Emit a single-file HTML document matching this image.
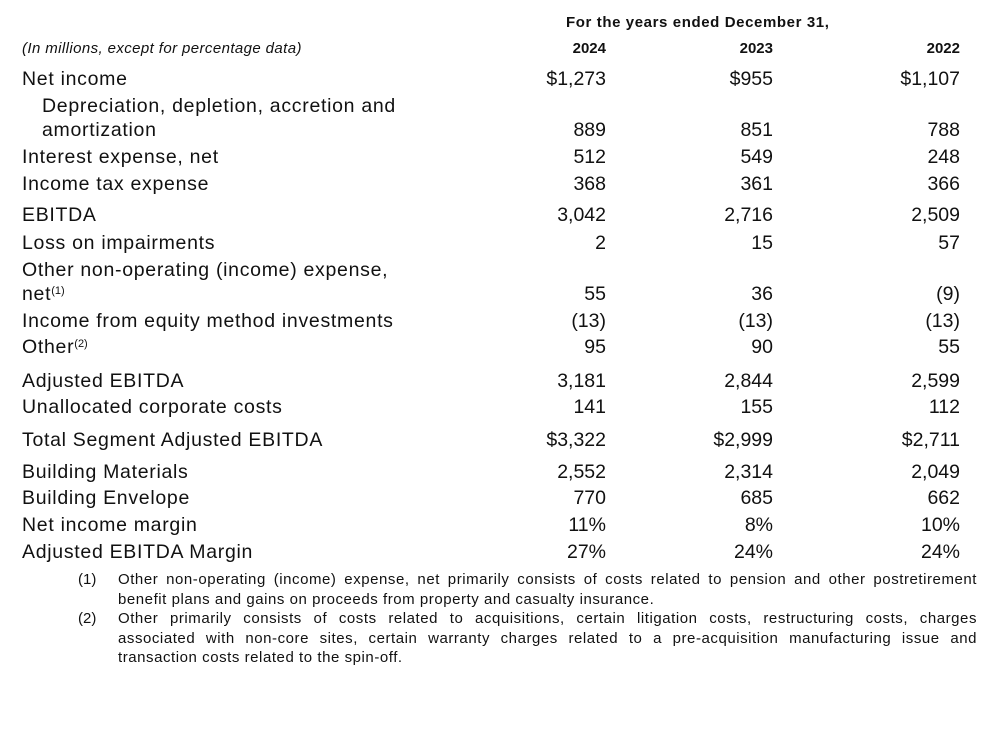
<!DOCTYPE html>
<html><head><meta charset="utf-8"><style>
body{margin:0;width:1004px;height:732px;background:#fff;font-family:"Liberation Sans",sans-serif;color:#111;position:relative;overflow:hidden}
.r{position:absolute;left:0;width:1004px;height:24px;font-size:19.5px;line-height:24px}
.r span{position:absolute;white-space:nowrap}
.r span.l,.r span.i{letter-spacing:0.7px}
.l{left:22px}.i{left:42px}
.a{right:398px}.b{right:231px}.c{right:44px}
.h{position:absolute;font-size:15px;font-weight:bold;white-space:nowrap}
sup{font-size:11px;vertical-align:6px;line-height:0;letter-spacing:0}
.fn{position:absolute;font-size:15px;line-height:19.5px;letter-spacing:0.55px}
.fn .n{position:absolute;left:78px;letter-spacing:0}
.fn .t{position:absolute;left:118px;width:859px;text-align:justify}
.j{display:block;text-align:justify;text-align-last:justify;white-space:nowrap}
.k{display:block;white-space:nowrap}
</style></head><body>
<div class="h" style="left:566px;top:14px;letter-spacing:0.6px">For the years ended December 31,</div>
<div class="h" style="right:398px;top:40px">2024</div>
<div class="h" style="right:231px;top:40px">2023</div>
<div class="h" style="right:44px;top:40px">2022</div>
<div style="position:absolute;left:22px;top:40px;font-size:15px;font-style:italic;letter-spacing:0.4px">(In millions, except for percentage data)</div>

<div class="r" style="top:67px"><span class="l">Net income</span><span class="a">$1,273</span><span class="b">$955</span><span class="c">$1,107</span></div>
<div class="r" style="top:94px"><span class="i">Depreciation, depletion, accretion and</span></div>
<div class="r" style="top:118px"><span class="i">amortization</span><span class="a">889</span><span class="b">851</span><span class="c">788</span></div>
<div class="r" style="top:145px"><span class="l">Interest expense, net</span><span class="a">512</span><span class="b">549</span><span class="c">248</span></div>
<div class="r" style="top:172px"><span class="l">Income tax expense</span><span class="a">368</span><span class="b">361</span><span class="c">366</span></div>
<div class="r" style="top:203px"><span class="l">EBITDA</span><span class="a">3,042</span><span class="b">2,716</span><span class="c">2,509</span></div>
<div class="r" style="top:231px"><span class="l">Loss on impairments</span><span class="a">2</span><span class="b">15</span><span class="c">57</span></div>
<div class="r" style="top:258px"><span class="l">Other non-operating (income) expense,</span></div>
<div class="r" style="top:282px"><span class="l">net<sup>(1)</sup></span><span class="a">55</span><span class="b">36</span><span class="c">(9)</span></div>
<div class="r" style="top:309px"><span class="l">Income from equity method investments</span><span class="a">(13)</span><span class="b">(13)</span><span class="c">(13)</span></div>
<div class="r" style="top:335px"><span class="l">Other<sup>(2)</sup></span><span class="a">95</span><span class="b">90</span><span class="c">55</span></div>
<div class="r" style="top:369px"><span class="l">Adjusted EBITDA</span><span class="a">3,181</span><span class="b">2,844</span><span class="c">2,599</span></div>
<div class="r" style="top:395px"><span class="l">Unallocated corporate costs</span><span class="a">141</span><span class="b">155</span><span class="c">112</span></div>
<div class="r" style="top:428px"><span class="l">Total Segment Adjusted EBITDA</span><span class="a">$3,322</span><span class="b">$2,999</span><span class="c">$2,711</span></div>
<div class="r" style="top:460px"><span class="l">Building Materials</span><span class="a">2,552</span><span class="b">2,314</span><span class="c">2,049</span></div>
<div class="r" style="top:486px"><span class="l">Building Envelope</span><span class="a">770</span><span class="b">685</span><span class="c">662</span></div>
<div class="r" style="top:513px"><span class="l">Net income margin</span><span class="a">11%</span><span class="b">8%</span><span class="c">10%</span></div>
<div class="r" style="top:540px"><span class="l">Adjusted EBITDA Margin</span><span class="a">27%</span><span class="b">24%</span><span class="c">24%</span></div>

<div class="fn" style="top:570px;left:0;width:1004px"><span class="n">(1)</span><span class="t"><span class="j">Other non-operating (income) expense, net primarily consists of costs related to pension and other postretirement</span><span class="k">benefit plans and gains on proceeds from property and casualty insurance.</span></span></div>
<div class="fn" style="top:609px;left:0;width:1004px"><span class="n">(2)</span><span class="t"><span class="j">Other primarily consists of costs related to acquisitions, certain litigation costs, restructuring costs, charges</span><span class="j">associated with non-core sites, certain warranty charges related to a pre-acquisition manufacturing issue and</span><span class="k">transaction costs related to the spin-off.</span></span></div>
</body></html>
